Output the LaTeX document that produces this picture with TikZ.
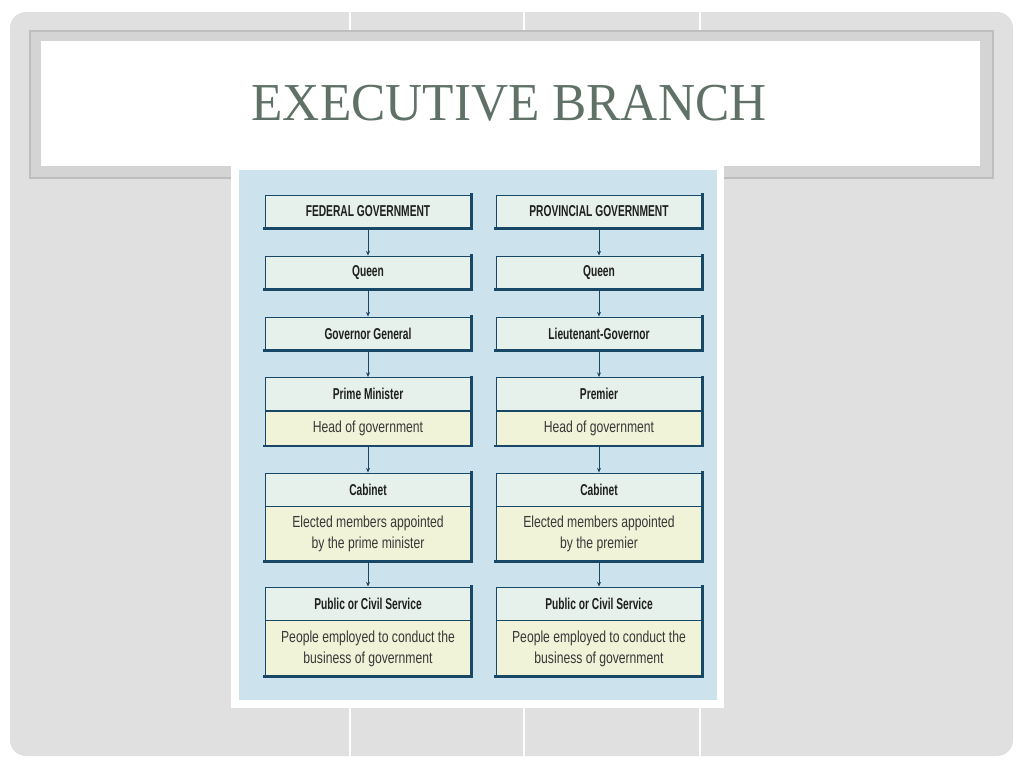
\documentclass[tikz,border=0pt]{standalone}
\usepackage{fontspec}
\setmainfont{Liberation Serif}
\newfontfamily\hdfont[FakeStretch=0.65]{Liberation Sans}
\newfontfamily\bdfont[FakeStretch=0.76]{Liberation Sans}
\usetikzlibrary{arrows.meta}
\definecolor{slidebg}{RGB}{224,224,224}
\definecolor{bandbg}{RGB}{212,212,212}
\definecolor{bandline}{RGB}{190,190,190}
\definecolor{titlecol}{RGB}{96,114,104}
\definecolor{skyblue}{RGB}{204,226,236}
\definecolor{hdfill}{RGB}{229,241,234}
\definecolor{bdfill}{RGB}{240,243,216}
\definecolor{edgecol}{RGB}{24,72,102}
\tikzset{
  hdbox/.style={draw=edgecol, line width=0.7pt, fill=hdfill, minimum width=154.5pt, minimum height=24.75pt, inner sep=0pt,
    font=\hdfont\bfseries\fontsize{11.8}{13}\selectfont, text=black!88},
  bdbox/.style={draw=edgecol, line width=0.7pt, fill=bdfill, minimum width=154.5pt, inner sep=0pt, align=center,
    font=\bdfont\fontsize{12}{15.75}\selectfont, text=black!78},
  shadowline/.style={edgecol, line width=2pt, line cap=rect},
  link/.style={edgecol, line width=0.6pt, -{Stealth[length=3.5pt,width=3pt]}},
  vline/.style={white, line width=1pt}
}
\begin{document}
\begin{tikzpicture}[x=0.75pt,y=-0.75pt]
\useasboundingbox (0,0) rectangle (1024,768);
\fill[white] (0,0) rectangle (1024,768);
% slide background
\fill[slidebg, rounded corners=12pt] (10,12) rectangle (1013,756);
\foreach \x in {350,524,700}{
  \draw[vline] (\x,12) -- (\x,40);
  \draw[vline] (\x,708) -- (\x,756);
}
% title band
\filldraw[fill=bandbg, draw=bandline, line width=0.8pt] (30,31) rectangle (993,178);
\fill[white] (41,41) rectangle (980,166);
\node[text=titlecol, inner sep=0pt] (title) at (509,103) {\resizebox{386pt}{26.5pt}{EXECUTIVE BRANCH}};
% picture frame
\fill[white] (231,160) rectangle (724,708);
\fill[skyblue] (239,170) rectangle (717,700);
% left column
\node[hdbox] (L1) at (368,211.5) {FEDERAL GOVERNMENT};
\node[hdbox] (L2) at (368,272.5) {Queen};
\node[hdbox] (L3) at (368,333.5) {Governor General};
\node[hdbox] (L4) at (368,394) {Prime Minister};
\node[bdbox, minimum height=25.5pt, anchor=north] (L4b) at (L4.south) {Head of government};
\node[hdbox] (L5) at (368,489.5) {Cabinet};
\node[bdbox, minimum height=40.5pt, anchor=north] (L5b) at (L5.south) {Elected members appointed\\by the prime minister};
\node[hdbox] (L6) at (368,603.5) {Public or Civil Service};
\node[bdbox, minimum height=41.25pt, anchor=north] (L6b) at (L6.south) {People employed to conduct the\\business of government};
% right column
\node[hdbox] (R1) at (599,211.5) {PROVINCIAL GOVERNMENT};
\node[hdbox] (R2) at (599,272.5) {Queen};
\node[hdbox] (R3) at (599,333.5) {Lieutenant-Governor};
\node[hdbox] (R4) at (599,394) {Premier};
\node[bdbox, minimum height=25.5pt, anchor=north] (R4b) at (R4.south) {Head of government};
\node[hdbox] (R5) at (599,489.5) {Cabinet};
\node[bdbox, minimum height=40.5pt, anchor=north] (R5b) at (R5.south) {Elected members appointed\\by the premier};
\node[hdbox] (R6) at (599,603.5) {Public or Civil Service};
\node[bdbox, minimum height=41.25pt, anchor=north] (R6b) at (R6.south) {People employed to conduct the\\business of government};
\foreach \c in {L,R}{
  % shadows (thicker right/bottom edges)
  \foreach \t/\b in {1/1,2/2,3/3,4/4b,5/5b,6/6b}{
    \draw[shadowline] (\c\b.south west) -- (\c\b.south east) -- (\c\t.north east);
  }
  % connectors
  \draw[link] (\c1) -- (\c2);
  \draw[link] (\c2) -- (\c3);
  \draw[link] (\c3) -- (\c4);
  \draw[link] (\c4b) -- (\c5);
  \draw[link] (\c5b) -- (\c6);
}
\end{tikzpicture}
\end{document}
